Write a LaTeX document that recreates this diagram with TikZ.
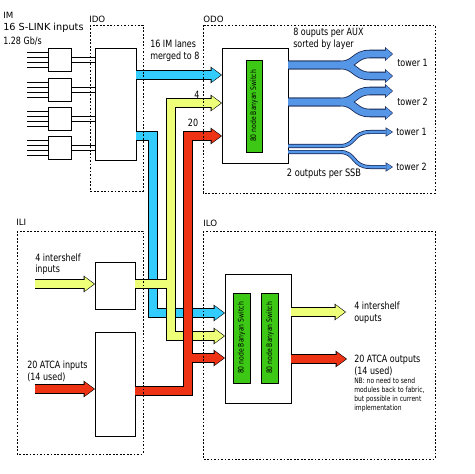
\documentclass[tikz,border=0pt]{standalone}
\usepackage{fontspec}
\setmainfont{DejaVu Sans}
\newfontfamily\cnd{DejaVu Sans}[FakeStretch=0.8]
\usepackage{tikz}
\usetikzlibrary{arrows.meta}

\definecolor{lanecyan}{RGB}{51,204,255}
\definecolor{laneyel}{RGB}{238,255,120}
\definecolor{lanered}{RGB}{238,50,20}
\definecolor{laneblue}{RGB}{85,150,230}
\definecolor{rimblue}{RGB}{20,35,80}
\definecolor{switchgreen}{RGB}{60,200,20}

\begin{document}
\begin{tikzpicture}[x=0.75pt,y=0.75pt,yscale=-1,xscale=1,
  box/.style={draw, line width=0.6pt, fill=white, inner sep=0pt, outer sep=0pt},
  swbox/.style={draw, line width=0.5pt, fill=switchgreen, inner sep=0pt, font=\cnd\fontsize{5.7}{6}\selectfont},
  region/.style={draw, line width=0.7pt, dash pattern=on 1.3pt off 1.3pt},
  title/.style={inner sep=0pt, anchor=west, font=\fontsize{6.5}{8}\selectfont},
  lbl/.style={inner sep=0pt, align=left, font=\cnd\fontsize{7.5}{9.2}\selectfont},
  bigrim/.style={draw=black, line width=7.5pt, -{Triangle[length=8.5pt,width=12.5pt,line width=0pt]}},
  bigcore/.style={draw=#1, line width=6.2pt, shorten >=0.8pt, -{Triangle[length=7pt,width=10.6pt,line width=0pt]}},
  midrim/.style={draw=rimblue, line width=6.4pt, -{Triangle[length=6pt,width=10.5pt,line width=0pt]}},
  midcore/.style={draw=laneblue, line width=5.2pt, shorten >=0.7pt, -{Triangle[length=4.7pt,width=8.8pt,line width=0pt]}},
  thinrim/.style={draw=rimblue, line width=3pt, -{Triangle[length=5.5pt,width=7pt,line width=0pt]}},
  thincore/.style={draw=laneblue, line width=1.9pt, shorten >=0.7pt, -{Triangle[length=4.2pt,width=5.3pt,line width=0pt]}},
]
\useasboundingbox (0,0) rectangle (474,474);

% IM inputs
\node[title, font=\fontsize{6.5}{8}\selectfont] (imname) at (3,15) {IM};
\node[title, font=\fontsize{7.3}{8}\selectfont] (imlinks) at (3,28) {16 S-LINK inputs};
\node[title, font=\cnd\fontsize{7.5}{8}\selectfont] (imrate) at (3,41) {1.28 Gb/s};

% boxes
\node[box, minimum width=30.75pt, minimum height=84pt] (ido) at (115.5,104) {};
\node[box, minimum width=49.5pt, minimum height=86.25pt] (odo) at (255,105.5) {};
\node[swbox, minimum width=69pt, minimum height=12pt, rotate=90] (odosw) at (254,106) {80 node Banyan Switch};
\node[box, minimum width=30pt, minimum height=35.25pt] (ili1) at (115,285.5) {};
\node[box, minimum width=30pt, minimum height=78pt] (ili2) at (115,384) {};
\node[box, minimum width=49.5pt, minimum height=96.75pt] (ilo) at (258,338.5) {};
\node[swbox, minimum width=67.5pt, minimum height=12.75pt, rotate=90] (ilosw1) at (241.5,338) {80 node Banyan Switch};
\node[swbox, minimum width=67.5pt, minimum height=12.75pt, rotate=90] (ilosw2) at (270,338) {80 node Banyan Switch};

\foreach \n/\y in {1/59.5,2/89.5,3/118.5,4/147.5} {
  \node[box, minimum width=17.25pt, minimum height=17.25pt] (im\n) at (59.5,\y) {};
  \foreach \d in {-7.5,-2.5,2.5,7.5}
    \draw[line width=0.6pt] ([yshift=\d*0.75pt]im\n.west) -- ++(-21,0);
  \foreach \d in {-2.5,2.5} {
    \coordinate (lane) at ([yshift=\d*0.75pt]im\n.east);
    \draw[line width=0.6pt] (lane) -- (lane -| ido.west);
  }
}

% free ends
\coordinate (inIS) at (35,284);
\coordinate (inATCA) at (35,389);
\coordinate (outIS) at (346,312);
\coordinate (outATCA) at (347,359);

% cyan lanes
\draw[bigrim] (ido.east |- 0,75) -- (odo.west |- 0,75);
\draw[bigrim] (ido.east |- 0,136) -- (153,136) -- (153,313) -- (ilo.west |- 0,313);
\draw[bigcore=lanecyan] (ido.east |- 0,75) -- (odo.west |- 0,75);
\draw[bigcore=lanecyan] (ido.east |- 0,136) -- (153,136) -- (153,313) -- (ilo.west |- 0,313);

% yellow lanes
\draw[bigrim] (inIS) -- (ili1.west |- inIS);
\draw[bigrim] (ili1.east |- 0,284) -- (171,284) -- (171,103) -- (odo.west |- 0,103);
\draw[bigrim] (171,284) -- (171,336) -- (ilo.west |- 0,336);
\draw[bigrim] (ilo.east |- outIS) -- (outIS);
\draw[bigcore=laneyel] (inIS) -- (ili1.west |- inIS);
\draw[bigcore=laneyel] (ili1.east |- 0,284) -- (171,284) -- (171,103) -- (odo.west |- 0,103);
\draw[bigcore=laneyel] (171,284) -- (171,336) -- (ilo.west |- 0,336);
\draw[bigcore=laneyel] (ilo.east |- outIS) -- (outIS);

% red lanes
\draw[bigrim] (inATCA) -- (ili2.west |- inATCA);
\draw[bigrim] (ili2.east |- 0,391) -- (188,391) -- (188,136) -- (odo.west |- 0,136);
\draw[bigrim] (188,358) -- (ilo.west |- 0,358);
\draw[bigrim] (ilo.east |- outATCA) -- (outATCA);
\draw[bigcore=lanered] (inATCA) -- (ili2.west |- inATCA);
\draw[bigcore=lanered] (ili2.east |- 0,391) -- (188,391) -- (188,136) -- (odo.west |- 0,136);
\draw[bigcore=lanered] (188,358) -- (ilo.west |- 0,358);
\draw[bigcore=lanered] (ilo.east |- outATCA) -- (outATCA);

% AUX outputs
\coordinate (aux1a) at (393,54);
\coordinate (aux1b) at (393,76);
\coordinate (aux2a) at (393,91);
\coordinate (aux2b) at (393,113);
\foreach \s in {midrim,midcore} {
  \draw[\s] (odo.east |- 0,65) -- (340,65) .. controls (356,65) and (354,54) .. (370,54) -- (aux1a);
  \draw[\s] (odo.east |- 0,65) -- (340,65) .. controls (356,65) and (354,76) .. (370,76) -- (aux1b);
  \draw[\s] (odo.east |- 0,102) -- (340,102) .. controls (356,102) and (354,91) .. (370,91) -- (aux2a);
  \draw[\s] (odo.east |- 0,102) -- (340,102) .. controls (356,102) and (354,113) .. (370,113) -- (aux2b);
}

% SSB outputs
\coordinate (ssb1) at (393,132);
\coordinate (ssb2) at (393,167);
\foreach \s in {thinrim,thincore} {
  \draw[\s] (odo.east |- 0,146) -- (340,146) .. controls (356,146) and (352,132) .. (370,132) -- (ssb1);
  \draw[\s] (odo.east |- 0,152) -- (340,152) .. controls (356,152) and (352,167) .. (370,167) -- (ssb2);
}

% dashed regions
\draw[region] (90,25) rectangle (143,191);
\draw[region] (203,25) rectangle (435,193);
\draw[region] (17,231) rectangle (143,454);
\draw[region] (203,231) rectangle (435,459);
\node[title] (idoname) at (89,19) {IDO};
\node[title] (odoname) at (203,19) {ODO};
\node[title] (iliname) at (16,222) {ILI};
\node[title] (iloname) at (203,223) {ILO};

% Text Node
\node[lbl, anchor=north west, font=\cnd\fontsize{7.5}{9.4}\selectfont] (merge) at (150,39.3) {16 IM lanes\\merged to 8};
\node[lbl] (nyel) at (197,95) {4};
\node[lbl] (nred) at (193,123) {20};
\node[lbl, anchor=north west, font=\cnd\fontsize{7.5}{8.3}\selectfont] (auxtxt) at (293,28.3) {8 ouputs per AUX\\sorted by layer};
\node[lbl, anchor=west] (t1) at (397,63) {tower 1};
\node[lbl, anchor=west] (t2) at (397,102) {tower 2};
\node[lbl, anchor=west] (t3) at (396,132) {tower 1};
\node[lbl, anchor=west] (t4) at (396,167) {tower 2};
\node[lbl, font=\cnd\fontsize{7.7}{9}\selectfont] (ssbtxt) at (324,174) {2 outputs per SSB};
\node[lbl, anchor=north west, font=\cnd\fontsize{7.5}{8.3}\selectfont] (isin) at (35,253.3) {4 intershelf\\inputs};
\node[lbl, anchor=north west, font=\cnd\fontsize{7.5}{9}\selectfont] (atcain) at (27,360.3) {20 ATCA inputs\\(14 used)};
\node[lbl, anchor=north west, font=\cnd\fontsize{7.5}{9}\selectfont] (isout) at (354,301.3) {4 intershelf\\ouputs};
\node[lbl, anchor=north west, font=\cnd\fontsize{7.5}{9}\selectfont] (atcaout) at (354,355.3) {20 ATCA outputs\\(14 used)};
\node[lbl, anchor=north west, font=\cnd\fontsize{5.6}{6.75}\selectfont] (nbtxt) at (354,377.3) {NB:\ no need to send\\modules back to fabric,\\but\ possible in current\\implementation};

\end{tikzpicture}
\end{document}
